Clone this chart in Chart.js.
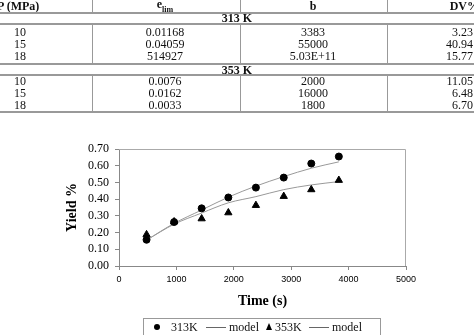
<!DOCTYPE html>
<html>
<head>
<meta charset="utf-8">
<script src="https://cdn.jsdelivr.net/npm/chart.js@4/dist/chart.umd.min.js"></script>
<style>
  html, body { margin: 0; padding: 0; background: #fff; }
  #wrap { position: relative; width: 474px; height: 335px; overflow: hidden; font-family: 'Liberation Serif', 'Times New Roman', serif; color: #111; }
  #chart { position: absolute; left: 0; top: 0; }
  .t { position: absolute; font-size: 12px; line-height: 12px; white-space: nowrap; }
  .c { transform: translate(-50%, -50%); }
  .l { transform: translate(0, -50%); }
  .r { transform: translate(-100%, -50%); }
  .b { font-weight: bold; }
  .hl { position: absolute; left: 0; width: 474px; height: 2px; background: #999; }
  .vl { position: absolute; width: 1px; background: #999; }
  #legend { position: absolute; left: 143px; top: 318px; width: 238px; height: 30px; border: 1px solid #999; box-sizing: border-box; }
  .li { position: absolute; top: 8px; font-size: 12px; line-height: 12px; transform: translateY(-50%); white-space: nowrap; }
  .dot { position: absolute; width: 6px; height: 6px; border-radius: 50%; background: #000; }
  .tri { position: absolute; width: 0; height: 0; border-left: 3.5px solid transparent; border-right: 3.5px solid transparent; border-bottom: 7px solid #000; }
  .seg { position: absolute; height: 1px; background: #666; }
</style>
</head>
<body>
<div id="wrap">
  <canvas id="chart" width="474" height="335"></canvas>
  <div id="table"></div>
  <div id="legend">
    <div class="dot" style="left:10px; top:5px;"></div>
    <div class="li" style="left:27px;">313K</div>
    <div class="seg" style="left:62px; width:20px; top:8px;"></div>
    <div class="li" style="left:85px;">model</div>
    <div class="tri" style="left:122px; top:4px;"></div>
    <div class="li" style="left:131px;">353K</div>
    <div class="seg" style="left:165px; width:20px; top:8px;"></div>
    <div class="li" style="left:188px;">model</div>
  </div>
</div>
<script>
// Parameter table: fitted model constants per pressure and temperature
const tableHeader = ['P (MPa)', 'e', 'b', 'DV%'];
const pressures = ['10', '15', '18'];
const eLim313 = ['0.01168', '0.04059', '514927'];
const b313 = ['3383', '55000', '5.03E+11'];
const dv313 = ['3.23', '40.94', '15.77'];
const eLim353 = ['0.0076', '0.0162', '0.0033'];
const b353 = ['2000', '16000', '1800'];
const dv353 = ['11.05', '6.48', '6.70'];

// Extraction kinetics
const times = [480, 960, 1440, 1905, 2385, 2870, 3350, 3830];
const yield313 = [0.157, 0.263, 0.345, 0.410, 0.469, 0.529, 0.613, 0.655];
const model313 = [0.155, 0.255, 0.335, 0.412, 0.478, 0.535, 0.585, 0.623];
const yield353 = [0.188, 0.265, 0.283, 0.319, 0.363, 0.417, 0.457, 0.513];
const model353 = [0.155, 0.250, 0.317, 0.378, 0.415, 0.457, 0.485, 0.505];
const xTicks = [0, 1000, 2000, 3000, 4000, 5000];
const yTicks = [0, 0.1, 0.2, 0.3, 0.4, 0.5, 0.6, 0.7];

// ---- table ----
const tbl = document.getElementById('table');
function txt(s, x, y, cls, html) {
  const d = document.createElement('div');
  d.className = 't ' + cls;
  d.style.left = x + 'px';
  d.style.top = y + 'px';
  if (html) d.innerHTML = s; else d.textContent = s;
  tbl.appendChild(d);
}
function hline(y) {
  const d = document.createElement('div');
  d.className = 'hl'; d.style.top = y + 'px'; tbl.appendChild(d);
}
function vline(x, y0, y1) {
  const d = document.createElement('div');
  d.className = 'vl'; d.style.left = x + 'px'; d.style.top = y0 + 'px'; d.style.height = (y1 - y0) + 'px';
  tbl.appendChild(d);
}
const colX = [20, 165, 313, 473];
txt(tableHeader[0], -3, 6, 'l b');
txt('e<sub style="font-size:8px">lim</sub>', colX[1], 7, 'c b', true);
txt(tableHeader[2], colX[2], 6, 'c b');
txt(tableHeader[3], 479, 6, 'r b');
hline(12);
txt('313 K', 237, 18, 'c b');
hline(23);
const rowY1 = [32, 43.7, 55.5];
pressures.forEach((p, i) => {
  txt(p, colX[0], rowY1[i], 'c');
  txt(eLim313[i], colX[1], rowY1[i], 'c');
  txt(b313[i], colX[2], rowY1[i], 'c');
  txt(dv313[i], colX[3], rowY1[i], 'r');
});
hline(63);
txt('353 K', 237, 69.5, 'c b');
hline(74);
const rowY2 = [81, 93, 105];
pressures.forEach((p, i) => {
  txt(p, colX[0], rowY2[i], 'c');
  txt(eLim353[i], colX[1], rowY2[i], 'c');
  txt(b353[i], colX[2], rowY2[i], 'c');
  txt(dv353[i], colX[3], rowY2[i], 'r');
});
hline(111);
[92, 240, 387].forEach(x => { vline(x, 0, 12); vline(x, 25, 63); vline(x, 76, 111); });

// ---- chart ----
const pts = (ys) => times.map((t, i) => ({ x: t, y: ys[i] }));

const frame = {
  id: 'frame',
  afterDraw(chart) {
    const { ctx, chartArea: a } = chart;
    ctx.save();
    ctx.strokeStyle = '#aaa';
    ctx.lineWidth = 1;
    ctx.beginPath();
    ctx.moveTo(a.left, a.top + 0.5);
    ctx.lineTo(a.right - 0.5, a.top + 0.5);
    ctx.lineTo(a.right - 0.5, a.bottom);
    ctx.stroke();
    ctx.restore();
  }
};

new Chart(document.getElementById('chart'), {
  type: 'scatter',
  data: {
    datasets: [
      { label: '313K', data: pts(yield313), pointStyle: 'circle', pointRadius: 3.5, backgroundColor: '#000', borderColor: '#000', showLine: false, order: 1 },
      { label: 'model', data: pts(model313), showLine: true, pointRadius: 0, borderColor: '#999', borderWidth: 1, cubicInterpolationMode: 'monotone', order: 2 },
      { label: '353K', data: pts(yield353), pointStyle: 'triangle', pointRadius: 4.2, backgroundColor: '#000', borderColor: '#000', showLine: false, order: 1 },
      { label: 'model', data: pts(model353), showLine: true, pointRadius: 0, borderColor: '#999', borderWidth: 1, cubicInterpolationMode: 'monotone', order: 2 }
    ]
  },
  options: {
    responsive: false,
    animation: false,
    layout: { padding: { top: 149, right: 68, left: 0, bottom: 0 } },
    plugins: { legend: { display: false }, tooltip: { enabled: false } },
    scales: {
      x: {
        type: 'linear', min: 0, max: 5000,
        afterBuildTicks: (s) => { s.ticks = xTicks.map(v => ({ value: v })); },
        afterFit: (s) => { s.height = 69; },
        grid: { drawOnChartArea: false, tickLength: 4, color: '#888' },
        border: { color: '#888' },
        ticks: { autoSkip: false, maxRotation: 0, padding: 4, color: '#000', font: { family: "'Liberation Sans', Arial, sans-serif", size: 9 }, callback: (v) => String(v) },
        title: { display: true, text: 'Time (s)', color: '#000', padding: { top: 0, bottom: 25 }, font: { family: "'Liberation Serif', 'Times New Roman', serif", size: 14, weight: 'bold' } }
      },
      y: {
        type: 'linear', min: 0, max: 0.7,
        afterBuildTicks: (s) => { s.ticks = yTicks.map(v => ({ value: v })); },
        afterFit: (s) => { s.width = 119; },
        grid: { drawOnChartArea: false, tickLength: 4, color: '#888' },
        border: { color: '#888' },
        ticks: { autoSkip: false, padding: 6, color: '#000', font: { family: "'Liberation Serif', 'Times New Roman', serif", size: 12 }, callback: (v) => Number(v).toFixed(2) },
        title: { display: true, text: 'Yield %', color: '#000', padding: { top: 64, bottom: 0 }, font: { family: "'Liberation Serif', 'Times New Roman', serif", size: 14, weight: 'bold' } }
      }
    }
  },
  plugins: [frame]
});
</script>
</body>
</html>
